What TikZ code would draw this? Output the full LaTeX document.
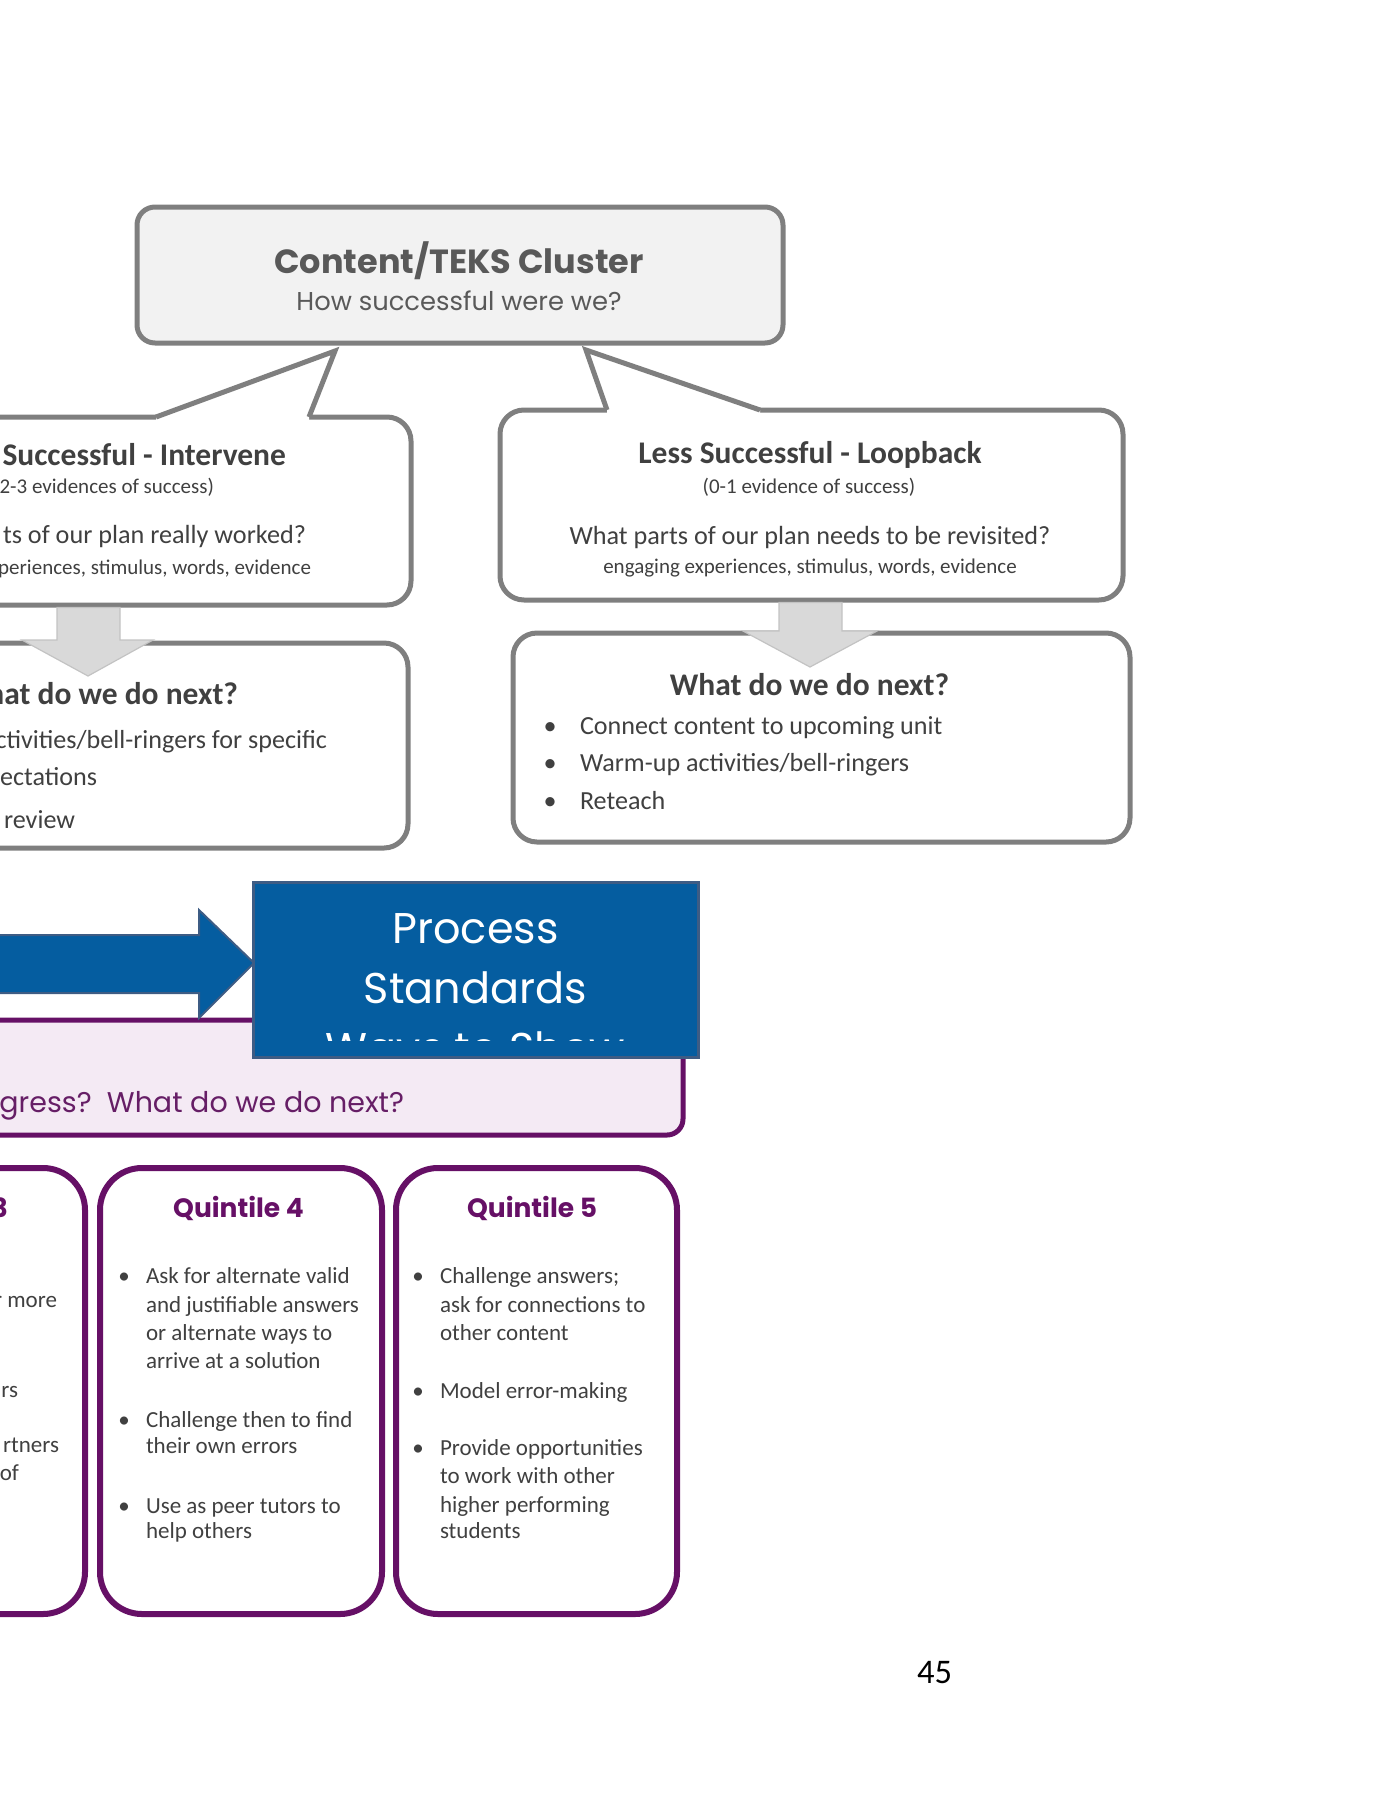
\documentclass[tikz,border=0pt]{standalone}
\usepackage{fontspec}
\setmainfont{Carlito}
\newfontfamily\gothic{Poppins}
\definecolor{bordergray}{RGB}{127,127,127}
\definecolor{topfill}{RGB}{242,242,242}
\definecolor{txtgray}{RGB}{64,64,64}
\definecolor{titlegray}{RGB}{89,89,89}
\definecolor{arrowfill}{RGB}{217,217,217}
\definecolor{arrowline}{RGB}{195,195,195}
\definecolor{bluefill}{RGB}{5,93,160}
\definecolor{blueline}{RGB}{62,92,132}
\definecolor{purpline}{RGB}{102,16,102}
\definecolor{purpfill}{RGB}{244,234,244}
\definecolor{purptext}{RGB}{102,30,102}
\newcommand\myfs[1]{\fontsize{#1}{#1}\selectfont}
\begin{document}
\begin{tikzpicture}[x=1pt,y=-1pt,
  every node/.style={inner sep=0pt, outer sep=0pt},
  gbox/.style={draw=bordergray, line width=5pt, rounded corners=24pt, fill=white},
  qbox/.style={draw=purpline, line width=6pt, rounded corners=42pt, fill=white},
  garrow/.style={fill=arrowfill, draw=arrowline, line width=1.2pt},
  wedge/.style={draw=bordergray, line width=5pt, line join=miter},
  head/.style={text=txtgray, font=\bfseries\myfs{31.5}, anchor=base},
  quest/.style={text=txtgray, font=\myfs{26.2}, anchor=base},
  small/.style={text=txtgray, font=\myfs{21}, anchor=base},
  btxt/.style={text=txtgray, font=\myfs{26.1}, anchor=base west},
  qtxt/.style={text=txtgray, font=\myfs{23}, anchor=base west},
  qbul/.style={text=txtgray, font=\myfs{23}, anchor=base},
  qtitle/.style={text=purpline, font=\gothic\bfseries\myfs{26.5}, anchor=base},
  ptxt/.style={text=white, font=\gothic\myfs{43}, anchor=base}
]
\useasboundingbox (0,0) rectangle (1391,1800);
\clip (0,0) rectangle (1391,1800);

% ---- top box
\node[gbox, fill=topfill, rounded corners=18pt, minimum width=646pt, minimum height=136pt] (top) at (460,275) {};
\node[text=titlegray, font=\gothic\bfseries\myfs{33.5}, anchor=base] (toptitle) at (459,273) {Content/TEKS Cluster};
\node[text=titlegray, font=\gothic\myfs{25.8}, anchor=base] (topsub) at (459,310) {How successful were we?};

% ---- callout boxes
\node[gbox, minimum width=617pt, minimum height=188pt] (lcall) at (102.5,511) {};
\node[gbox, minimum width=623pt, minimum height=190pt] (rcall) at (811.5,505) {};
% wedges
\coordinate (lwa) at (156,417); \coordinate (lwt) at (335,351); \coordinate (lwb) at (309,417);
\fill[white] (lwa) -- (lwt) -- (lwb) -- (309,421) -- (156,421) -- cycle;
\draw[wedge] (lwa) -- (lwt) -- (lwb);
\coordinate (rwa) at (607,410); \coordinate (rwt) at (586,350); \coordinate (rwb) at (760,410);
\fill[white] (rwa) -- (rwt) -- (rwb) -- (760,414) -- (607,414) -- cycle;
\draw[wedge] (rwa) -- (rwt) -- (rwb);

% ---- lower gray boxes
\node[gbox, minimum width=617pt, minimum height=205pt] (lnext) at (99.5,745.5) {};
\node[gbox, minimum width=617pt, minimum height=209pt] (rnext) at (821.5,737.5) {};

% ---- gray down arrows
\draw[garrow] (57,607.5) -- (120,607.5) -- (120,640) -- (153,640) -- (88,676) -- (22,640) -- (57,640) -- cycle;
\draw[garrow] (779,602.5) -- (842,602.5) -- (842,631) -- (877,631) -- (810,667) -- (743,631) -- (779,631) -- cycle;

% ---- left callout texts (visible parts)
\node[head, anchor=base east] (l1) at (286,465) {Successful - Intervene};
\node[small, anchor=base east] (l2) at (214,493) {2-3 evidences of success)};
\node[quest, anchor=base east] (l3) at (306,543) {ts of our plan really worked?};
\node[small, anchor=base east] (l4) at (311,574) {periences, stimulus, words, evidence};

% ---- right callout texts
\node[head] (r1) at (810,463) {Less Successful - Loopback};
\node[small] (r2) at (809,493) {(0-1 evidence of success)};
\node[quest] (r3) at (810,544) {What parts of our plan needs to be revisited?};
\node[small] (r4) at (810,573) {engaging experiences, stimulus, words, evidence};

% ---- left next texts
\node[head, anchor=base east] (ln1) at (238,704) {hat do we do next?};
\node[btxt, anchor=base east] (ln2) at (327,748) {ctivities/bell-ringers for specific};
\node[btxt, anchor=base east] (ln3) at (97,785) {ectations};
\node[btxt, anchor=base east] (ln4) at (75,828) {review};

% ---- right next texts
\node[head] (rn1) at (809.5,695) {What do we do next?};
\node[btxt, anchor=base] (rb1) at (550,734) {\textbullet};
\node[btxt] (rt1) at (580,734) {Connect content to upcoming unit};
\node[btxt, anchor=base] (rb2) at (550,771) {\textbullet};
\node[btxt] (rt2) at (580,771) {Warm-up activities/bell-ringers};
\node[btxt, anchor=base] (rb3) at (550,809) {\textbullet};
\node[btxt] (rt3) at (580,809) {Reteach};

% ---- purple bar
\node[draw=purpline, line width=5pt, rounded corners=16pt, fill=purpfill, minimum width=883pt, minimum height=115pt] (bar) at (241.5,1077.5) {};
\node[text=purptext, font=\gothic\myfs{28.5}, anchor=base east] (bartxt) at (404,1112) {gress?\ \ What do we do next?};

% ---- blue arrow and box
\draw[fill=bluefill, draw=blueline, line width=2pt] (-10,935) -- (199,935) -- (199,910) -- (254,963) -- (199,1018) -- (199,993) -- (-10,993) -- cycle;
\node[fill=bluefill, draw=blueline, line width=3pt, minimum width=445pt, minimum height=175pt] (ps) at (475.5,969.5) {};
\begin{scope}
\clip (255,884) rectangle (696,1040);
\node[ptxt] (ps1) at (475.5,943) {Process};
\node[ptxt] (ps2) at (475.5,1003) {Standards};
\node[ptxt] (ps3) at (475.5,1063) {Ways to Show};
\end{scope}

% ---- quintile boxes
\node[qbox, minimum width=285pt, minimum height=446pt] (q3) at (-57.5,1391) {};
\node[qbox, minimum width=282pt, minimum height=446pt] (q4) at (241,1391) {};
\node[qbox, minimum width=281pt, minimum height=446pt] (q5) at (536.5,1391) {};

\node[qtitle, anchor=base east] (q3t) at (8,1217) {3};
\node[qtxt, anchor=base east] (q3a) at (57,1307) {r more};
\node[qtxt, anchor=base east] (q3b) at (18,1397) {rs};
\node[qtxt, anchor=base east] (q3c) at (59,1452) {rtners};
\node[qtxt, anchor=base east] (q3d) at (19,1480) {of};

\node[qtitle] (q4t) at (238.5,1217) {Quintile 4};
\node[qbul] (q4b1) at (124,1283) {\textbullet};
\node[qtxt] (q4a) at (146,1283) {Ask for alternate valid};
\node[qtxt] (q4b) at (146,1312) {and justifiable answers};
\node[qtxt] (q4c) at (146,1340) {or alternate ways to};
\node[qtxt] (q4d) at (146,1368) {arrive at a solution};
\node[qbul] (q4b2) at (124,1427) {\textbullet};
\node[qtxt] (q4e) at (146,1427) {Challenge then to find};
\node[qtxt] (q4f) at (146,1453) {their own errors};
\node[qbul] (q4b3) at (124,1513) {\textbullet};
\node[qtxt] (q4g) at (146,1513) {Use as peer tutors to};
\node[qtxt] (q4h) at (146,1538) {help others};

\node[qtitle] (q5t) at (532,1217) {Quintile 5};
\node[qbul] (q5b1) at (418,1283) {\textbullet};
\node[qtxt] (q5a) at (440,1283) {Challenge answers;};
\node[qtxt] (q5b) at (440,1312) {ask for connections to};
\node[qtxt] (q5c) at (440,1340) {other content};
\node[qbul] (q5b2) at (418,1398) {\textbullet};
\node[qtxt] (q5d) at (440,1398) {Model error-making};
\node[qbul] (q5b3) at (418,1455) {\textbullet};
\node[qtxt] (q5e) at (440,1455) {Provide opportunities};
\node[qtxt] (q5f) at (440,1483) {to work with other};
\node[qtxt] (q5g) at (440,1512) {higher performing};
\node[qtxt] (q5h) at (440,1538) {students};

% ---- page number
\node[font=\myfs{34.5}, anchor=base, text=black] (pg) at (934.5,1683) {45};
\end{tikzpicture}
\end{document}
